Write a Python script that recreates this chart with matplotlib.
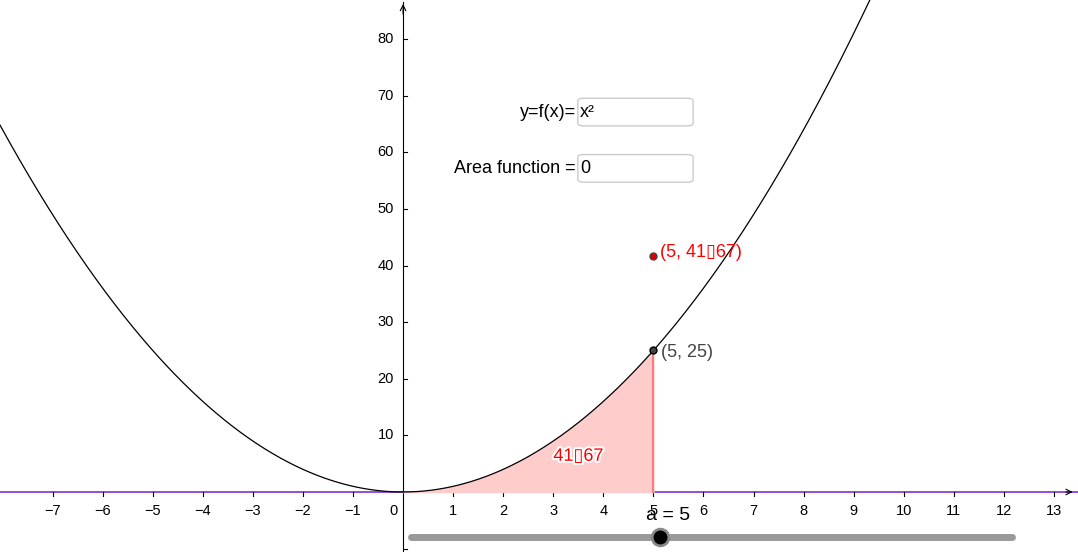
import matplotlib.pyplot as plt
import matplotlib.patheffects as pe
import numpy as np
from matplotlib.patches import FancyBboxPatch

plt.rcParams['font.family'] = ['Liberation Sans', 'DejaVu Sans']

# view window (data units)
x_min, x_max = -8.05, 13.48
y_min, y_max = -10.6, 86.9

a = 5
area = 41.67
x_ticks = [-7, -6, -5, -4, -3, -2, -1, 1, 2, 3, 4, 5, 6, 7, 8, 9, 10, 11, 12, 13]
y_ticks = [10, 20, 30, 40, 50, 60, 70, 80]

fig = plt.figure(figsize=(10.78, 5.52), dpi=100)
ax = fig.add_axes([0, 0, 1, 1])
ax.set_xlim(x_min, x_max)
ax.set_ylim(y_min, y_max)
ax.set_axis_off()

## axes
ax.axhline(0, color='#7f2fd8', lw=1.2, zorder=1)
ax.annotate('', xy=(x_max - 0.05, 0), xytext=(x_max - 0.3, 0),
            arrowprops=dict(arrowstyle='->', color='black', lw=0.8))
ax.plot([0, 0], [y_min, y_max - 0.3], color='black', lw=0.8)
ax.annotate('', xy=(0, y_max - 0.2), xytext=(0, y_max - 3),
            arrowprops=dict(arrowstyle='->', color='black', lw=0.8))
for t in x_ticks:
    ax.plot([t, t], [0, -0.7], color='black', lw=0.8)
    lab = ('\u2212%d' % -t) if t < 0 else '%d' % t
    ax.text(t, -2.1, lab, ha='center', va='top', fontsize=10.5)
ax.text(-0.2, -2.1, '0', ha='center', va='top', fontsize=10.5)
for t in y_ticks:
    ax.plot([0, 0.08], [t, t], color='black', lw=0.8)
    ax.text(-0.18, t, '%d' % t, ha='right', va='center', fontsize=10.5)
ax.plot([0, 0.08], [-10, -10], color='black', lw=0.8)

## function and area
xs = np.linspace(x_min, x_max, 800)
ax.plot(xs, xs**2, color='black', lw=0.9, zorder=3)
xf = np.linspace(0, a, 200)
ax.fill_between(xf, 0, xf**2, color='#ffcccc', zorder=2)
ax.plot([a, a], [0, a**2], color='#ff6b6b', lw=1.2, zorder=2)
ax.text(3.5, 6.3, '41\u25af67', color='red', fontsize=13, ha='center', va='center',
        zorder=4, path_effects=[pe.withStroke(linewidth=3, foreground='white')])

## points
ax.plot(a, a**2, 'o', ms=5, mfc='#444444', mec='black', zorder=5)
ax.text(a + 0.15, a**2 - 0.4, '(5, 25)', color='#444444', fontsize=13, va='center')
ax.plot(a, area, 'o', ms=5, mfc='#dd0000', mec='#444444', zorder=5)
ax.text(a + 0.13, area + 0.6, '(5, 41\u25af67)', color='red', fontsize=13, va='center')

## input boxes
for yb, lab, val in [(0.772, 'y=f(x)=', 'x²'), (0.670, 'Area function =', '0')]:
    fig.patches.append(FancyBboxPatch((0.536, yb), 0.107, 0.05,
                       boxstyle='round,pad=0,rounding_size=0.005',
                       transform=fig.transFigure, fc='white', ec='#cccccc', lw=1))
    fig.text(0.534, yb + 0.025, lab, ha='right', va='center', fontsize=13)
    fig.text(0.538, yb + 0.025, val, ha='left', va='center', fontsize=13)

## slider
fig.add_artist(plt.Line2D([0.381, 0.939], [0.027, 0.027], color='#999999', lw=5,
                          solid_capstyle='round', transform=fig.transFigure))
fig.add_artist(plt.Line2D([0.6125], [0.027], marker='o', ms=12, mfc='black',
                          mec='#888888', mew=2, transform=fig.transFigure))
fig.text(0.620, 0.066, 'a = 5', ha='center', va='center', fontsize=14)

fig.savefig('out.png', dpi=100)
